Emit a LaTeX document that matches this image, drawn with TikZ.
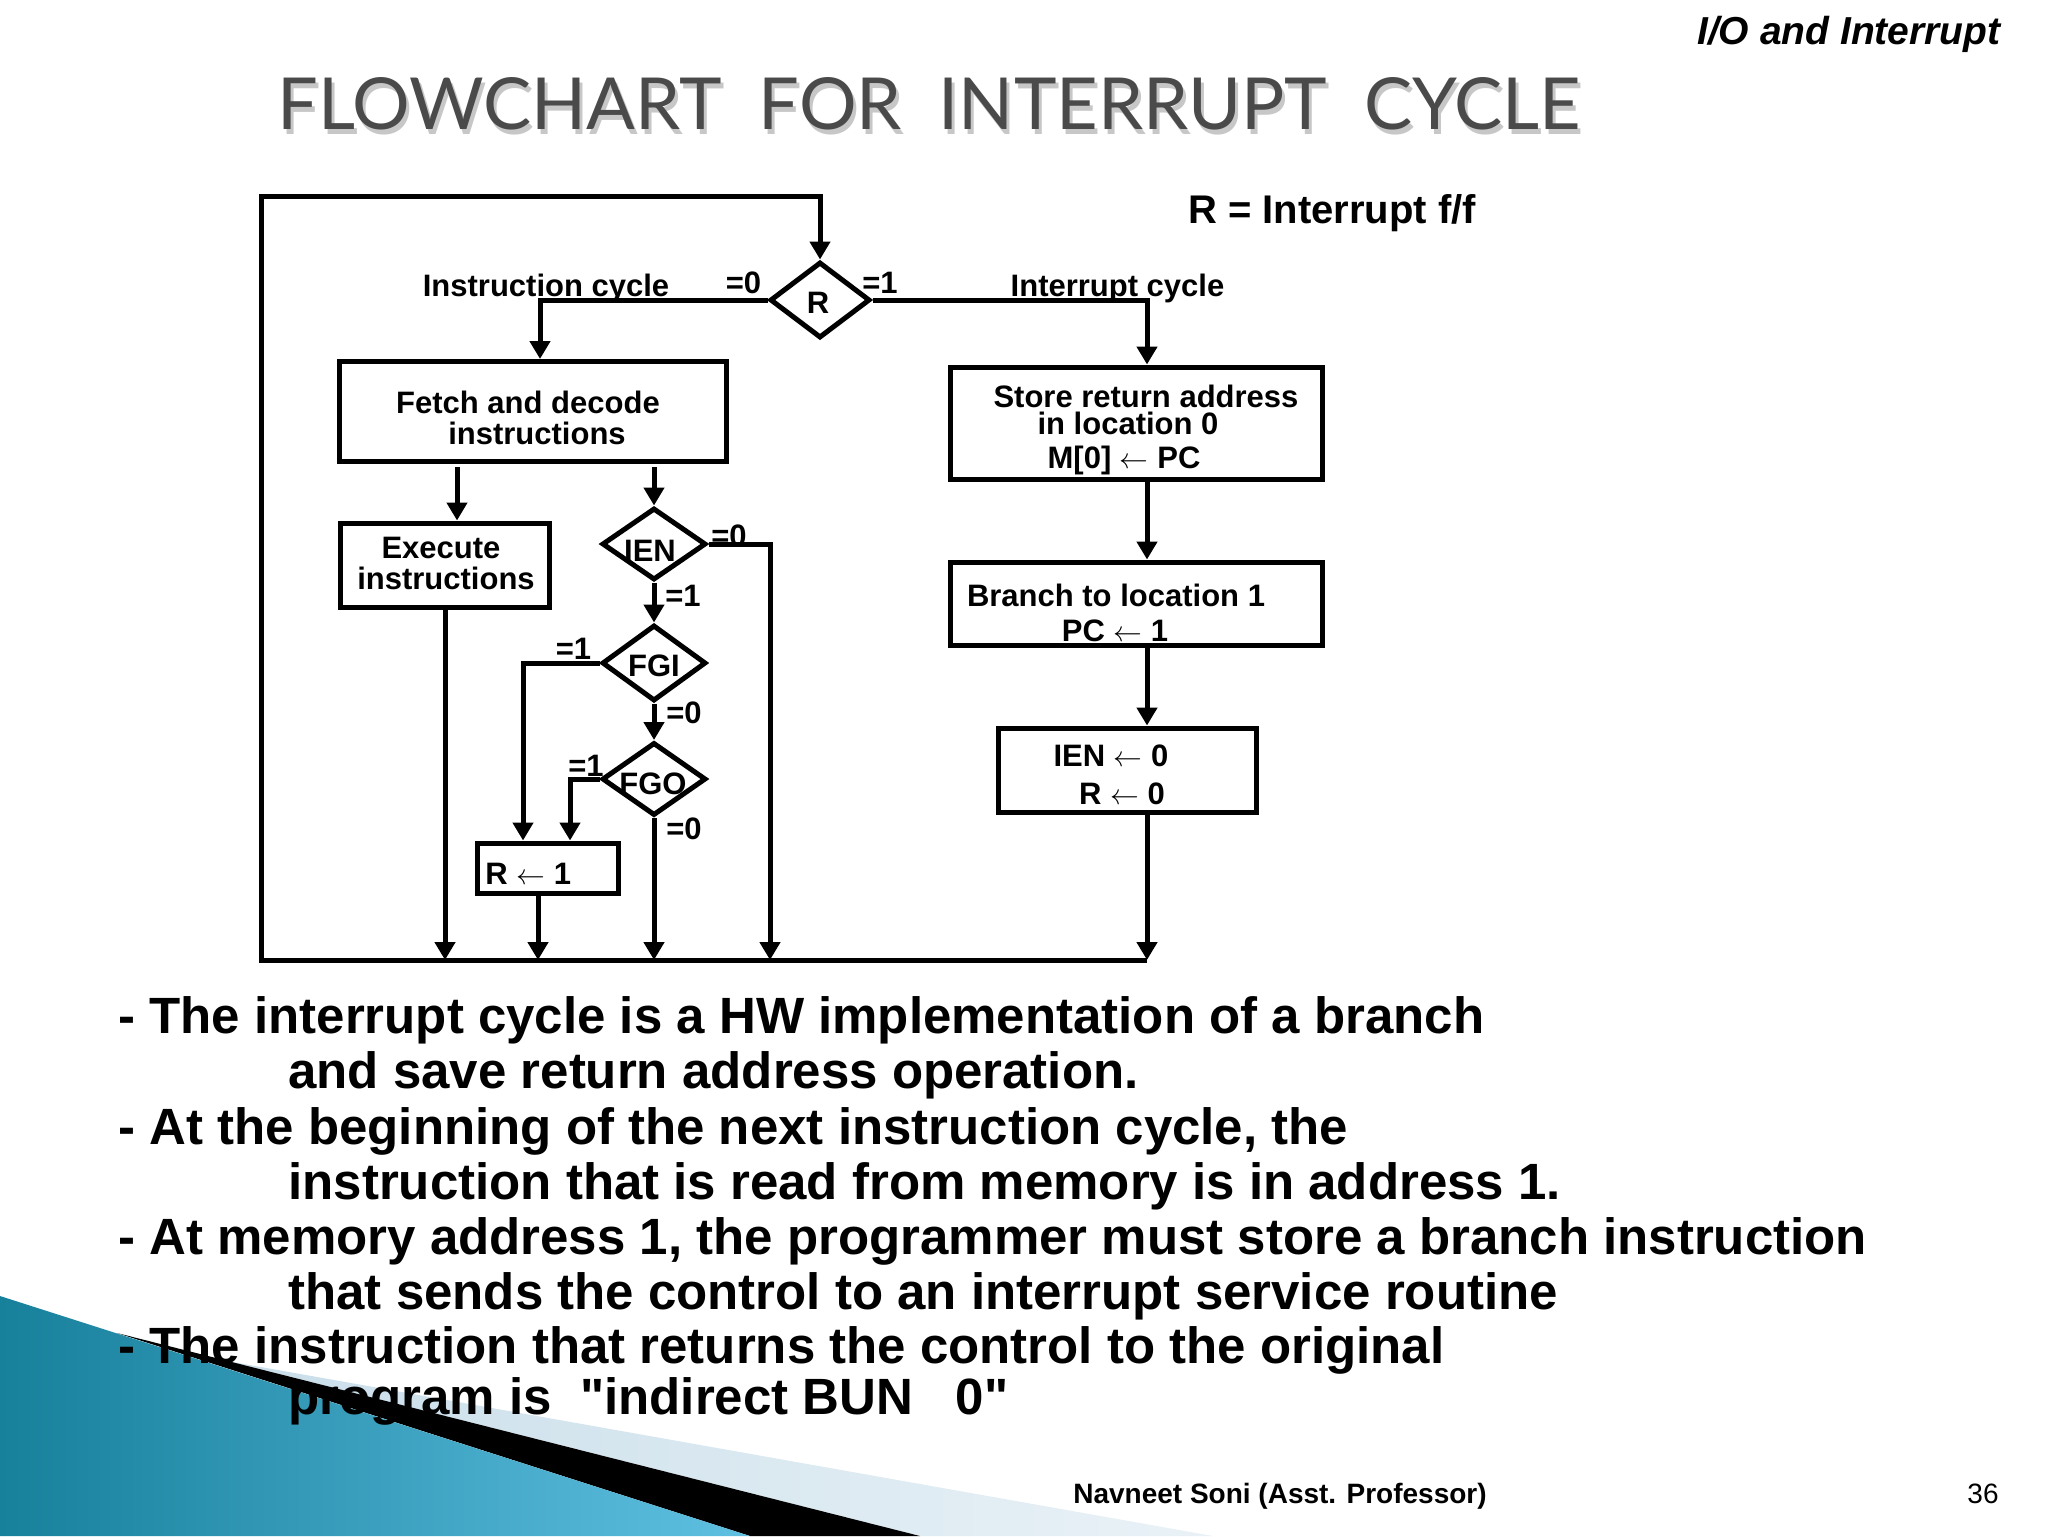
\documentclass[tikz,border=0pt]{standalone}
\usepackage{graphicx}
\usepackage{fontspec}
\setmainfont{Liberation Sans}
\newfontfamily\plainsans{Liberation Sans}
\newfontfamily\titlefont{Lato}
\usetikzlibrary{arrows.meta,shapes.geometric}
\definecolor{tealdark}{HTML}{17809B}
\definecolor{teallight}{HTML}{5FC0E2}
\definecolor{bandc}{HTML}{C9DEEA}
\definecolor{titlegray}{HTML}{4A4A4A}
\begin{document}
\begin{tikzpicture}[x=0.5pt,y=-0.5pt,
  boxn/.style={draw, rectangle, line width=2.5pt, inner sep=0pt},
  dia/.style={draw, diamond, line width=2.5pt, inner sep=0pt},
  lbl/.style={anchor=base, inner sep=0pt, font=\fontsize{15.5}{15.5}\selectfont\bfseries},
  bul/.style={anchor=base west, inner sep=0pt, font=\fontsize{25.5}{30}\selectfont\bfseries},
  flow/.style={line width=2.5pt, -{Triangle[width=10pt,length=9pt]}},
  ln/.style={line width=2.5pt}]
\useasboundingbox (0,0) rectangle (2048,1536);
\fill[white] (0,0) rectangle (2048,1536);

% decorative wedge
\shade[left color=bandc, right color=bandc!40!white] (227,1361) -- (1213,1536) -- (920,1536) -- cycle;
\fill[black] (117,1333) -- (920,1536) -- (750,1536) -- cycle;
\shade[left color=tealdark, right color=teallight] (0,1296) -- (750,1536) -- (0,1536) -- cycle;

% header
\node[anchor=base east, inner sep=0pt, font=\fontsize{19.5}{20}\selectfont\bfseries\itshape] (hdr) at (2001,45) {I/O and Interrupt};
\node[anchor=base west, inner sep=0pt, text=black!22] (titlesh) at (280,134) {\resizebox{651.5pt}{26pt}{\titlefont FLOWCHART\ \ FOR\ \ INTERRUPT\ \ CYCLE}};
\node[anchor=base west, inner sep=0pt, text=titlegray] (title) at (277,130) {\resizebox{651.5pt}{26pt}{\titlefont FLOWCHART\ \ FOR\ \ INTERRUPT\ \ CYCLE}};

% flowchart nodes
\node[dia, minimum width=50pt, minimum height=38pt] (R) at (820,300) {};
\node[lbl] (Rt) at (818,313) {R};
\node[boxn, minimum width=193.5pt, minimum height=50pt] (fetch) at (533,411.5) {};
\node[lbl] (fetch1) at (528,413) {Fetch and decode};
\node[lbl] (fetch2) at (537,444) {instructions};
\node[boxn, minimum width=186pt, minimum height=56pt] (store) at (1136,423) {};
\node[lbl] (st1) at (1146,407) {Store return address};
\node[lbl] (st2) at (1128,434) {in location 0};
\node[lbl] (st3) at (1124,468) {M[0] $\leftarrow$ PC};
\node[boxn, minimum width=186pt, minimum height=41.5pt] (branch) at (1136,603.5) {};
\node[lbl] (br1) at (1116,606) {Branch to location 1};
\node[lbl] (br2) at (1115,641) {PC $\leftarrow$ 1};
\node[boxn, minimum width=129pt, minimum height=42pt] (ienz) at (1127,770) {};
\node[lbl] (iz1) at (1111,766) {IEN $\leftarrow$ 0};
\node[lbl] (iz2) at (1122,804) {R $\leftarrow$ 0};
\node[boxn, minimum width=104.5pt, minimum height=42pt] (exec) at (445,565) {};
\node[lbl] (ex1) at (441,558) {Execute};
\node[lbl] (ex2) at (446,589) {instructions};
\node[boxn, minimum width=70.5pt, minimum height=25pt] (rone) at (547.5,868) {};
\node[lbl, anchor=base west] (r1t) at (485,884) {R $\leftarrow$ 1};
\node[dia, minimum width=52pt, minimum height=36pt] (IEN) at (654,544) {};
\node[lbl] (IENt) at (650,561) {IEN};
\node[dia, minimum width=52pt, minimum height=38pt] (FGI) at (654,663) {};
\node[lbl] (FGIt) at (654,676) {FGI};
\node[dia, minimum width=52pt, minimum height=36.5pt] (FGO) at (654,779) {};
\node[lbl] (FGOt) at (653,794) {FGO};

% labels
\node[lbl] (icyc) at (546,296) {Instruction cycle};
\node[lbl] (intc) at (1117.5,296) {Interrupt cycle};
\node[lbl] (rz) at (743.5,293) {=0};
\node[lbl] (ro) at (880,293) {=1};
\node[lbl, font=\fontsize{20}{20}\selectfont\bfseries] (rdef) at (1332,223) {R = Interrupt f/f};
\node[lbl] (ienz0) at (729,546) {=0};
\node[lbl] (ien1) at (683,606) {=1};
\node[lbl] (fgi1) at (573.5,659) {=1};
\node[lbl] (fgi0) at (684,723) {=0};
\node[lbl] (fgo1) at (586,776) {=1};
\node[lbl] (fgo0) at (684,839) {=0};

% coordinates
\coordinate (tl) at (261,196);
\coordinate (bl) at (261,960);
\coordinate (brc) at (1147,960);
\coordinate (f1) at (457,467);
\coordinate (f2) at (654,467);
\coordinate (xa) at (523,0);
\coordinate (xb) at (570,0);
\coordinate (xc) at (538,0);
\coordinate (xf) at (540,0);
\coordinate (xr) at (1147,0);
\coordinate (c0) at (770,960);

% connectors
\draw[flow] (brc) -- (bl) -- (tl) -| (R.north);
\draw[flow] (R.west) -| (xf |- fetch.north);
\draw[flow] (R.east) -| (xr |- store.north);
\draw[flow] (f1) -- (f1 |- exec.north);
\draw[flow] (f2) -- (IEN.north);
\draw[flow] (exec.south) -- (exec.south |- brc);
\draw[flow] (IEN.east) -| (c0);
\draw[flow] (IEN.south) -- (FGI.north);
\draw[flow] (FGI.west) -| (xa |- rone.north);
\draw[flow] (FGI.south) -- (FGO.north);
\draw[flow] (FGO.west) -| (xb |- rone.north);
\draw[flow] (FGO.south) -- (FGO.south |- brc);
\draw[flow] (xc |- rone.south) -- (xc |- brc);
\draw[flow] (xr |- store.south) -- (xr |- branch.north);
\draw[flow] (xr |- branch.south) -- (xr |- ienz.north);
\draw[flow] (xr |- ienz.south) -- (brc);

% text body
\node[bul] (b1) at (118,1033) {- The interrupt cycle is a HW implementation of a branch};
\node[bul] (b2) at (288,1088) {and save return address operation.};
\node[bul] (b3) at (118,1144) {- At the beginning of the next instruction cycle, the};
\node[bul] (b4) at (288,1199) {instruction that is read from memory is in address 1.};
\node[bul] (b5) at (118,1254) {- At memory address 1, the programmer must store a branch instruction};
\node[bul] (b6) at (288,1309) {that sends the control to an interrupt service routine};
\node[bul] (b7) at (118,1363) {- The instruction that returns the control to the original};
\node[bul] (b8) at (288,1414) {\plainsans\bfseries program is\ \ "indirect BUN\ \ \ 0"};

% footer
\node[anchor=base, inner sep=0pt, font=\fontsize{14}{14}\selectfont\bfseries] (foot) at (1280,1503) {Navneet Soni (Asst. Professor)};
\node[anchor=base east, inner sep=0pt, font=\fontsize{14}{14}\selectfont] (pnum) at (1999,1503) {36};
\end{tikzpicture}
\end{document}
